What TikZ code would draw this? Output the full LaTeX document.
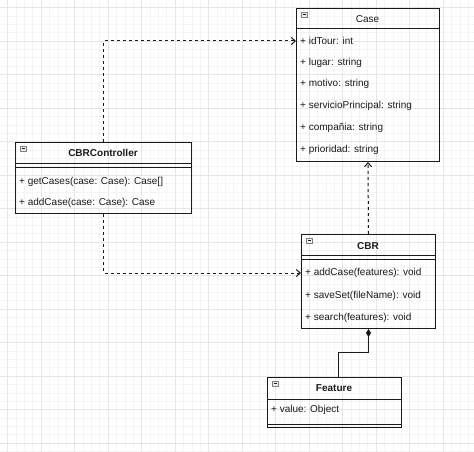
\documentclass[tikz,border=0pt]{standalone}
\usepackage{fontspec}
\setmainfont{Liberation Sans}
\usetikzlibrary{arrows.meta, calc, positioning}

\definecolor{gridminor}{HTML}{F4F4F4}
\definecolor{gridmajor}{HTML}{E6E6E6}
\definecolor{ink}{HTML}{1A1A1A}

\tikzset{
  classbox/.style={draw=ink, line width=1pt, anchor=north west, inner sep=0pt},
  title/.style={inner sep=0pt, text=ink, font=\fontsize{10}{12}\selectfont\bfseries},
  member/.style={anchor=west, inner xsep=4pt, inner ysep=0pt, text=ink, font=\fontsize{10}{12}\selectfont},
  sepline/.style={draw=ink, line width=1pt},
  dep/.style={draw=ink, line width=1pt, dash pattern=on 3pt off 3pt, -{Straight Barb[length=4pt,width=7pt]}},
  comp/.style={draw=ink, line width=1pt, {Diamond[length=8pt,width=5pt]}-},
  foldicon/.style={draw=gray, fill=gray!15, line width=0.6pt}
}

% small collapse box in the corner of a class
\newcommand{\foldmark}[1]{%
  \draw[foldicon] ($(#1.north west)+(5,4)$) rectangle ++(6,5);
  \draw[ink, line width=0.6pt] ($(#1.north west)+(6.5,6.5)$) -- ++(3,0);
}

\begin{document}
\begin{tikzpicture}[x=1pt, y=-1pt]
  % Background and grid
  \fill[white] (0,0) rectangle (474,452);
  \useasboundingbox (0,0) rectangle (474,452);
  \foreach \i in {0,...,57} {
    \draw[gridminor, line width=0.5pt] ({-0.875+8.375*\i},0) -- ({-0.875+8.375*\i},452);
    \draw[gridminor, line width=0.5pt] (0,{-0.875+8.375*\i}) -- (474,{-0.875+8.375*\i});
  }
  \foreach \i in {0,...,14} {
    \draw[gridmajor, line width=0.5pt] ({7.5+33.5*\i},0) -- ({7.5+33.5*\i},452);
    \draw[gridmajor, line width=0.5pt] (0,{7.5+33.5*\i}) -- (474,{7.5+33.5*\i});
  }

  % Case
  \node[classbox, minimum width=143pt, minimum height=153pt] (case) at (296,8) {};
  \foldmark{case}
  \node[title, font=\fontsize{10}{12}\selectfont] (casetitle) at (367.5,19) {Case};
  \draw[sepline] (296,29) -- (439,29);
  \node[member] (idtour) at (296,41) {+ idTour: int};
  \node[member] (lugar) at (296,63) {+ lugar: string};
  \node[member] (motivo) at (296,84) {+ motivo: string};
  \node[member] (servicio) at (296,106) {+ servicioPrincipal: string};
  \node[member] (compania) at (296,128) {+ compañia: string};
  \node[member] (prioridad) at (296,150) {+ prioridad: string};

  % CBRController
  \node[classbox, minimum width=176pt, minimum height=71pt] (ctrl) at (15,142) {};
  \foldmark{ctrl}
  \node[title] (ctrltitle) at (103,153) {CBRController};
  \draw[sepline] (15,163) -- (191,163);
  \draw[sepline] (15,167) -- (191,167);
  \node[member] (getcases) at (15,182) {+ getCases(case: Case): Case[]};
  \node[member] (addcasectrl) at (15,203) {+ addCase(case: Case): Case};

  % CBR
  \node[classbox, minimum width=134pt, minimum height=94pt] (cbr) at (301,234) {};
  \foldmark{cbr}
  \node[title] (cbrtitle) at (368,246) {CBR};
  \draw[sepline] (301,255) -- (435,255);
  \draw[sepline] (301,259) -- (435,259);
  \node[member] (addcase) at (301,273) {+ addCase(features): void};
  \node[member] (saveset) at (301,296) {+ saveSet(fileName): void};
  \node[member] (search) at (301,318) {+ search(features): void};

  % Feature
  \node[classbox, minimum width=134pt, minimum height=50pt] (feat) at (267,377) {};
  \foldmark{feat}
  \node[title] (feattitle) at (334,388) {Feature};
  \draw[sepline] (267,399) -- (401,399);
  \node[member] (value) at (267,410) {+ value: Object};
  \draw[sepline] (267,424) -- (401,424);

  % Connectors
  \draw[dep] (ctrl.north) |- (idtour.west);
  \draw[dep] (ctrl.south) |- (addcase.west);
  \draw[dep] (cbr.north) -- (case.south);
  \draw[comp] (cbr.south) -- ++(0,23) -| ([xshift=4pt]feat.north);
\end{tikzpicture}
\end{document}
